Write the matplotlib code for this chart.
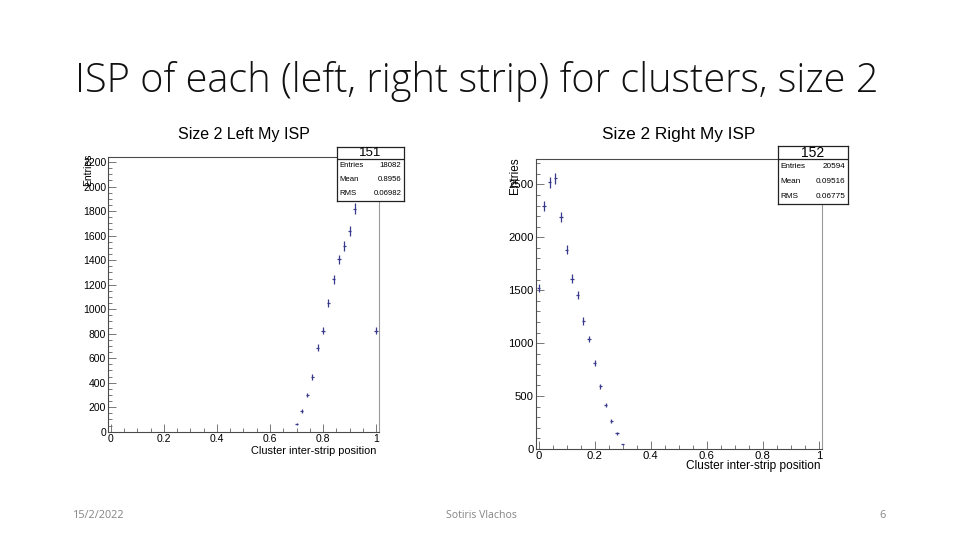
import numpy as np
import matplotlib
matplotlib.use("Agg")
import matplotlib.pyplot as plt
from matplotlib.ticker import MultipleLocator

# data (bin centres / entries)
left_x = [0.70, 0.72, 0.74, 0.76, 0.78, 0.80, 0.82, 0.84, 0.86, 0.88, 0.90, 0.92, 0.94, 0.96, 0.98, 1.00]
left_y = [63, 169, 297, 446, 686, 822, 1050, 1244, 1407, 1516, 1635, 1820, 1990, 2130, 1985, 822]
right_x = [0.00, 0.02, 0.04, 0.06, 0.08, 0.10, 0.12, 0.14, 0.16, 0.18, 0.20, 0.22, 0.24, 0.26, 0.28, 0.30]
right_y = [1518, 2299, 2520, 2557, 2192, 1883, 1609, 1458, 1209, 1039, 813, 592, 416, 265, 148, 44]

left_stats = [("Entries", "18082"), ("Mean", "0.8956"), ("RMS", "0.06982")]
right_stats = [("Entries", "20594"), ("Mean", "0.09516"), ("RMS", "0.06775")]

plt.rcParams["font.family"] = ["Liberation Sans", "DejaVu Sans"]

W, H = 960, 540
fig = plt.figure(figsize=(9.6, 5.4), dpi=100)
fig.patch.set_facecolor("white")

def fx(px):
    return px / W

def fy(py):
    return 1 - py / H

navy = "#3a3a8c"
framec = "#4a4a4a"

def hist_panel(rect, xs, ys, ymax, major, minor, title, title_xy, label_xy, s):
    ax = fig.add_axes(rect)
    ys = np.array(ys, dtype=float)
    ax.errorbar(xs, ys, xerr=0.006, yerr=np.sqrt(ys), fmt="none",
                ecolor=navy, elinewidth=0.9)
    ax.set_xlim(-0.01, 1.01)
    ax.set_ylim(0, ymax)
    ax.xaxis.set_minor_locator(MultipleLocator(0.05))
    ax.yaxis.set_major_locator(MultipleLocator(major))
    ax.yaxis.set_minor_locator(MultipleLocator(minor))
    ax.set_xticks([0, 0.2, 0.4, 0.6, 0.8, 1.0])
    ax.set_xticklabels(["0", "0.2", "0.4", "0.6", "0.8", "1"])
    ax.tick_params(which="both", direction="in", color="#777777", width=0.7,
                   labelsize=7.5 * s, top=False, right=False)
    ax.tick_params(which="major", length=6)
    ax.tick_params(which="minor", length=3)
    ax.tick_params(axis="x", pad=1.5)
    ax.tick_params(axis="y", pad=1.5)
    for sp in ax.spines.values():
        sp.set_color(framec)
        sp.set_linewidth(0.8)
    ax.spines["right"].set_color("#9a9a9a")
    fig.text(fx(title_xy[0]), fy(title_xy[1]), title, ha="center", va="center",
             fontsize=11.5 * s)
    fig.text(fx(label_xy[0]), fy(label_xy[1]), "Cluster inter-strip position",
             ha="right", va="center", fontsize=7.9 * s)
    return ax

def stats_box(x0, y0, x1, y1, head_y, name, rows, s):
    bx = fig.add_axes([fx(x0), fy(y1), fx(x1 - x0), (y1 - y0) / H])
    bx.set_xlim(0, 1)
    bx.set_ylim(y1, y0)
    bx.set_xticks([])
    bx.set_yticks([])
    bx.set_facecolor("white")
    for sp in bx.spines.values():
        sp.set_linewidth(0.9)
        sp.set_color("#222222")
    bx.axhline(head_y, color="#222222", lw=0.9)
    bx.text(0.5, (y0 + head_y) / 2, name, ha="center", va="center", fontsize=9.5 * s)
    step = (y1 - head_y) / len(rows)
    for i, (k, v) in enumerate(rows):
        yy = head_y + step * (i + 0.5)
        bx.text(0.04, yy, k, ha="left", va="center", fontsize=5.6 * s)
        bx.text(0.96, yy, v, ha="right", va="center", fontsize=5.6 * s)

# left panel
axl = hist_panel([fx(108.3), fy(431.7), fx(378.7 - 108.3), (431.7 - 157.3) / H],
                 left_x, left_y, 2239, 200, 50, "Size 2 Left My ISP",
                 (244, 135), (376.7, 451), 1.0)
fig.text(fx(88), fy(170), "Entries", rotation=90, ha="center", va="center",
         fontsize=7.5)
stats_box(336.7, 146.7, 404.3, 200.7, 159, "151", left_stats, 1.0)

# right panel
axr = hist_panel([fx(535.7), fy(449), fx(821.7 - 535.7), (449 - 159.3) / H],
                 right_x, right_y, 2737, 500, 100, "Size 2 Right My ISP",
                 (679, 135), (820, 466), 1.08)
fig.text(fx(515), fy(176), "Entries", rotation=90, ha="center", va="center",
         fontsize=8.5)
stats_box(777.7, 146, 848.3, 204.3, 159, "152", right_stats, 1.05)

# slide title and footer
fig.text(fx(75), fy(81), "ISP of each (left, right strip) for clusters, size 2",
         ha="left", va="center", fontsize=28.6, family="Open Sans", weight="light",
         color="#111111")
fig.text(fx(73), fy(515), "15/2/2022", ha="left", va="center", fontsize=7.8,
         family="Open Sans", color="#858585")
fig.text(fx(481), fy(515), "Sotiris Vlachos", ha="center", va="center", fontsize=7.6,
         family="Open Sans", color="#858585")
fig.text(fx(886), fy(515), "6", ha="right", va="center", fontsize=7.8,
         family="Open Sans", color="#858585")

fig.savefig("out.png", dpi=100)
